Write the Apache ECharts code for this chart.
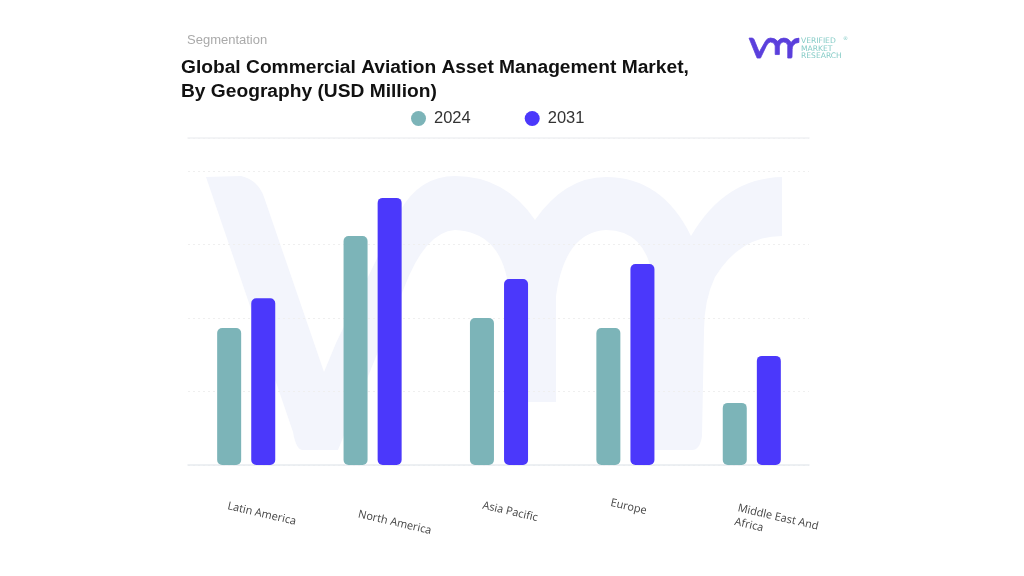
<!DOCTYPE html>
<html>
<head>
<meta charset="utf-8">
<script src="https://cdn.jsdelivr.net/npm/echarts@6/dist/echarts.min.js"></script>
<style>
html,body{margin:0;padding:0;background:#fff;}
#ChartMain{width:1024px;height:576px;}
</style>
</head>
<body>
<div id="ChartMain"></div>
<script>
var regions = ['Latin America', 'North America', 'Asia Pacific', 'Europe', 'Middle East And\nAfrica'];
var values2024 = [37.3, 62.3, 40, 37.3, 16.9];
var values2031 = [45.4, 72.7, 50.6, 54.7, 29.7];
// label start from the tick, the labels sit unevenly in the original
var labelShiftX = [-17, -11, -15, -14, -12];
var labelShiftY = [2, 9, 1, -2, 3];

var vmrPath = 'M206 177 L241 176 Q258 180 264 197 L324 372 L336 343 L400 211 Q420 176 455 176 ' +
    'Q505 176 535 220 Q565 177 606 177 Q662 177 691 236 Q725 178 782 177 L782 236 ' +
    'Q740 236 715 277 Q704 300 704 331 L702 436 Q700 450 692 450 L653 450 L653 277 ' +
    'Q645 230 606 230 Q565 232 556 296 L556 402 L508 402 L508 284 Q500 232 455 230 ' +
    'Q425 232 404 288 L338 450 L303 450 Q296 450 293 432 Z';
echarts.graphic.registerShape('vmrMark', echarts.graphic.extendPath(vmrPath, {}));

function regionLabels() {
    return regions.map(function (name, i) {
        return {
            value: name,
            textStyle: {
                align: 'left',
                verticalAlign: 'top',
                padding: [labelShiftY[i], 0, 0, labelShiftX[i]]
            }
        };
    });
}

var chart = echarts.init(document.getElementById('ChartMain'));
var option = {
    animation: false,
    backgroundColor: '#fff',
    title: [
        {
            text: 'Segmentation', left: 182, top: 29,
            textStyle: {fontFamily: 'Liberation Sans', fontSize: 13, fontWeight: 'normal', color: '#aaa'}
        },
        {
            text: 'Global Commercial Aviation Asset Management Market,\nBy Geography (USD Million)', left: 176, top: 51,
            textStyle: {fontFamily: 'Liberation Sans', fontSize: 19.2, fontWeight: 'bold', color: '#111', lineHeight: 23.5}
        }
    ],
    legend: {
        left: 406, top: 105,
        icon: 'circle',
        itemWidth: 15, itemHeight: 15, itemGap: 54,
        textStyle: {fontFamily: 'Liberation Sans', fontSize: 16.5, color: '#333', padding: [1, 0, 0, 3]},
        data: ['2024', '2031']
    },
    graphic: [
        {type: 'vmrMark', z: -10, style: {fill: '#f3f5fc'}},
        {type: 'vmrMark', z: 5, x: 731.2, y: 25.2, scaleX: 0.0866, scaleY: 0.073, style: {fill: '#5a3fdc', stroke: '#5a3fdc', lineWidth: 10}},
        {type: 'text', x: 801, y: 37.5, style: {text: 'VERIFIED', font: '7.6px "DejaVu Sans"', fill: '#84cbc6'}},
        {type: 'text', x: 801, y: 45, style: {text: 'MARKET', font: '7.6px "DejaVu Sans"', fill: '#84cbc6'}},
        {type: 'text', x: 801, y: 52.5, style: {text: 'RESEARCH', font: '7.6px "DejaVu Sans"', fill: '#84cbc6'}},
        {type: 'text', x: 843, y: 36, style: {text: '®', font: '5px "DejaVu Sans"', fill: '#84cbc6'}}
    ],
    grid: [
        {left: 183, top: 138, width: 632, height: 327},
        {left: 188, top: 138, width: 621, height: 327}
    ],
    xAxis: [
        {
            type: 'category', gridIndex: 0, data: regionLabels(),
            axisLine: {show: false},
            axisTick: {show: false},
            axisLabel: {
                interval: 0, rotate: -13, align: 'left', verticalAlign: 'top', margin: 36,
                fontFamily: 'Open Sans', fontSize: 11, color: '#444', lineHeight: 14
            }
        },
        {
            type: 'value', gridIndex: 1, position: 'bottom', min: 0, max: 1,
            axisLine: {show: true, onZero: false, lineStyle: {color: '#e8ebf0', width: 1.5}},
            axisTick: {show: false}, axisLabel: {show: false}, splitLine: {show: false}
        },
        {
            type: 'value', gridIndex: 1, position: 'top', min: 0, max: 1,
            axisLine: {show: true, onZero: false, lineStyle: {color: '#f0f1f3', width: 1.5}},
            axisTick: {show: false}, axisLabel: {show: false}, splitLine: {show: false}
        }
    ],
    yAxis: [
        {type: 'value', gridIndex: 0, min: 0, max: 89, show: false, splitLine: {show: false}},
        {
            type: 'value', gridIndex: 1, min: 0, max: 89, interval: 20,
            axisLine: {show: false}, axisTick: {show: false}, axisLabel: {show: false},
            splitLine: {lineStyle: {color: '#efefef', type: [2, 3], width: 1}}
        }
    ],
    series: [
        {
            name: '2024', type: 'bar', xAxisIndex: 0, yAxisIndex: 0, data: values2024,
            barWidth: 24, barGap: '42%',
            itemStyle: {color: '#7cb4b8', borderRadius: 5}
        },
        {
            name: '2031', type: 'bar', xAxisIndex: 0, yAxisIndex: 0, data: values2031,
            barWidth: 24, barGap: '42%',
            itemStyle: {color: '#4b38fb', borderRadius: 5}
        }
    ]
};
chart.setOption(option);
</script>
</body>
</html>
